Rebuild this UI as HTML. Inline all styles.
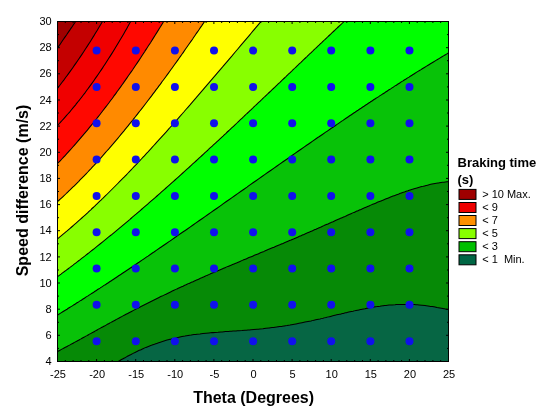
<!DOCTYPE html>
<html><head><meta charset="utf-8"><title>Braking time contour</title>
<style>html,body{margin:0;padding:0;background:#fff}svg{display:block}text{font-family:"Liberation Sans",sans-serif;fill:#000}</style></head><body>
<svg width="550" height="415" viewBox="0 0 550 415">
<rect width="550" height="415" fill="#fff"/>
<defs><clipPath id="c"><rect x="57.5" y="21.5" width="391.0" height="340.0"/></clipPath></defs>
<g clip-path="url(#c)">
<rect x="57.5" y="21.5" width="391.0" height="340.0" fill="#A00000"/>
<path d="M450.5,363.5 L55.5,363.5 L55.5,52.0 L54.8,52.0 C55.3,51.3 56.8,49.1 57.8,47.6 C58.8,46.1 59.8,44.7 60.8,43.2 C61.8,41.8 62.8,40.3 63.8,38.8 C64.8,37.4 65.8,35.9 66.8,34.5 C67.8,33.0 68.8,31.5 69.8,30.1 C70.8,28.6 71.8,27.2 72.8,25.7 C73.8,24.2 74.8,22.8 75.8,21.3 C76.8,19.8 78.3,17.7 78.8,16.9 L78.8,19.5 L450.5,19.5 Z" fill="#C40000" stroke="#000" stroke-width="1.05"/>
<path d="M450.5,363.5 L55.5,363.5 L55.5,91.7 L54.8,91.7 C55.3,91.1 56.8,89.2 57.8,87.9 C58.8,86.6 59.8,85.3 60.8,84.0 C61.8,82.7 62.8,81.4 63.8,80.1 C64.8,78.7 65.8,77.4 66.8,76.0 C67.8,74.7 68.8,73.3 69.8,71.9 C70.8,70.5 71.8,69.1 72.8,67.7 C73.8,66.3 74.8,64.9 75.8,63.4 C76.8,62.0 77.8,60.5 78.8,59.0 C79.8,57.6 80.8,56.1 81.8,54.6 C82.8,53.1 83.8,51.6 84.8,50.0 C85.8,48.5 86.8,46.9 87.8,45.4 C88.8,43.8 89.8,42.2 90.8,40.7 C91.8,39.1 92.8,37.5 93.8,35.9 C94.8,34.2 95.8,32.6 96.8,31.0 C97.8,29.3 98.8,27.7 99.8,26.0 C100.8,24.3 101.8,22.6 102.8,20.9 C103.8,19.2 105.3,16.6 105.8,15.8 L105.8,19.5 L450.5,19.5 Z" fill="#F00000" stroke="#000" stroke-width="1.05"/>
<path d="M450.5,363.5 L55.5,363.5 L55.5,128.2 L54.8,128.2 C55.3,127.7 56.8,126.1 57.8,125.1 C58.8,124.0 59.8,123.0 60.8,121.9 C61.8,120.8 62.8,119.7 63.8,118.6 C64.8,117.5 65.8,116.4 66.8,115.2 C67.8,114.1 68.8,112.9 69.8,111.8 C70.8,110.6 71.8,109.4 72.8,108.2 C73.8,107.0 74.8,105.8 75.8,104.6 C76.8,103.3 77.8,102.1 78.8,100.8 C79.8,99.6 80.8,98.3 81.8,97.0 C82.8,95.7 83.8,94.4 84.8,93.1 C85.8,91.7 86.8,90.4 87.8,89.0 C88.8,87.7 89.8,86.3 90.8,84.9 C91.8,83.5 92.8,82.1 93.8,80.7 C94.8,79.3 95.8,77.9 96.8,76.4 C97.8,75.0 98.8,73.5 99.8,72.0 C100.8,70.6 101.8,69.1 102.8,67.6 C103.8,66.1 104.8,64.5 105.8,63.0 C106.8,61.5 107.8,59.9 108.8,58.3 C109.8,56.8 110.8,55.2 111.8,53.6 C112.8,52.0 113.8,50.4 114.8,48.7 C115.8,47.1 116.8,45.5 117.8,43.8 C118.8,42.1 119.8,40.5 120.8,38.8 C121.8,37.1 122.8,35.4 123.8,33.7 C124.8,31.9 125.8,30.2 126.8,28.4 C127.8,26.7 128.8,24.9 129.8,23.1 C130.8,21.3 132.3,18.6 132.8,17.7 L132.8,19.5 L450.5,19.5 Z" fill="#FF0800" stroke="#000" stroke-width="1.05"/>
<path d="M450.5,363.5 L55.5,363.5 L55.5,166.3 L54.8,166.3 C55.3,165.8 56.8,164.3 57.8,163.2 C58.8,162.2 59.8,161.1 60.8,160.1 C61.8,159.0 62.8,158.0 63.8,156.9 C64.8,155.8 65.8,154.8 66.8,153.7 C67.8,152.6 68.8,151.5 69.8,150.4 C70.8,149.3 71.8,148.2 72.8,147.0 C73.8,145.9 74.8,144.8 75.8,143.7 C76.8,142.5 77.8,141.4 78.8,140.2 C79.8,139.1 80.8,137.9 81.8,136.7 C82.8,135.6 83.8,134.4 84.8,133.2 C85.8,132.0 86.8,130.8 87.8,129.6 C88.8,128.4 89.8,127.2 90.8,125.9 C91.8,124.7 92.8,123.5 93.8,122.2 C94.8,121.0 95.8,119.7 96.8,118.5 C97.8,117.2 98.8,116.0 99.8,114.7 C100.8,113.4 101.8,112.1 102.8,110.8 C103.8,109.5 104.8,108.2 105.8,106.9 C106.8,105.6 107.8,104.3 108.8,103.0 C109.8,101.6 110.8,100.3 111.8,99.0 C112.8,97.6 113.8,96.3 114.8,94.9 C115.8,93.5 116.8,92.2 117.8,90.8 C118.8,89.4 119.8,88.0 120.8,86.6 C121.8,85.2 122.8,83.8 123.8,82.4 C124.8,81.0 125.8,79.6 126.8,78.1 C127.8,76.7 128.8,75.3 129.8,73.8 C130.8,72.4 131.8,70.9 132.8,69.5 C133.8,68.0 134.8,66.5 135.8,65.0 C136.8,63.6 137.8,62.1 138.8,60.6 C139.8,59.1 140.8,57.6 141.8,56.0 C142.8,54.5 143.8,53.0 144.8,51.5 C145.8,49.9 146.8,48.4 147.8,46.8 C148.8,45.3 149.8,43.7 150.8,42.2 C151.8,40.6 152.8,39.0 153.8,37.4 C154.8,35.8 155.8,34.2 156.8,32.6 C157.8,31.0 158.8,29.4 159.8,27.8 C160.8,26.2 161.8,24.6 162.8,22.9 C163.8,21.3 165.3,18.8 165.8,18.0 L165.8,19.5 L450.5,19.5 Z" fill="#FF8A00" stroke="#000" stroke-width="1.05"/>
<path d="M450.5,363.5 L55.5,363.5 L55.5,204.0 L54.8,204.0 C55.3,203.6 56.8,202.3 57.8,201.4 C58.8,200.5 59.8,199.5 60.8,198.6 C61.8,197.7 62.8,196.8 63.8,195.8 C64.8,194.9 65.8,194.0 66.8,193.0 C67.8,192.1 68.8,191.1 69.8,190.2 C70.8,189.2 71.8,188.2 72.8,187.2 C73.8,186.3 74.8,185.3 75.8,184.3 C76.8,183.3 77.8,182.3 78.8,181.3 C79.8,180.2 80.8,179.2 81.8,178.2 C82.8,177.2 83.8,176.1 84.8,175.1 C85.8,174.1 86.8,173.0 87.8,172.0 C88.8,170.9 89.8,169.8 90.8,168.8 C91.8,167.7 92.8,166.6 93.8,165.6 C94.8,164.5 95.8,163.4 96.8,162.3 C97.8,161.2 98.8,160.1 99.8,159.0 C100.8,157.9 101.8,156.7 102.8,155.6 C103.8,154.5 104.8,153.4 105.8,152.2 C106.8,151.1 107.8,149.9 108.8,148.8 C109.8,147.6 110.8,146.5 111.8,145.3 C112.8,144.2 113.8,143.0 114.8,141.8 C115.8,140.6 116.8,139.5 117.8,138.3 C118.8,137.1 119.8,135.9 120.8,134.7 C121.8,133.5 122.8,132.3 123.8,131.1 C124.8,129.8 125.8,128.6 126.8,127.4 C127.8,126.2 128.8,124.9 129.8,123.7 C130.8,122.5 131.8,121.2 132.8,120.0 C133.8,118.7 134.8,117.5 135.8,116.2 C136.8,114.9 137.8,113.7 138.8,112.4 C139.8,111.1 140.8,109.9 141.8,108.6 C142.8,107.3 143.8,106.0 144.8,104.7 C145.8,103.4 146.8,102.1 147.8,100.8 C148.8,99.5 149.8,98.2 150.8,96.9 C151.8,95.6 152.8,94.2 153.8,92.9 C154.8,91.6 155.8,90.2 156.8,88.9 C157.8,87.6 158.8,86.2 159.8,84.9 C160.8,83.5 161.8,82.2 162.8,80.8 C163.8,79.5 164.8,78.1 165.8,76.7 C166.8,75.4 167.8,74.0 168.8,72.6 C169.8,71.2 170.8,69.9 171.8,68.5 C172.8,67.1 173.8,65.7 174.8,64.3 C175.8,62.9 176.8,61.5 177.8,60.1 C178.8,58.7 179.8,57.3 180.8,55.9 C181.8,54.5 182.8,53.0 183.8,51.6 C184.8,50.2 185.8,48.8 186.8,47.3 C187.8,45.9 188.8,44.5 189.8,43.0 C190.8,41.6 191.8,40.1 192.8,38.7 C193.8,37.2 194.8,35.8 195.8,34.3 C196.8,32.9 197.8,31.4 198.8,30.0 C199.8,28.5 200.8,27.0 201.8,25.6 C202.8,24.1 203.8,22.6 204.8,21.1 C205.8,19.7 207.3,17.4 207.8,16.7 L207.8,19.5 L450.5,19.5 Z" fill="#FFFF00" stroke="#000" stroke-width="1.05"/>
<path d="M450.5,363.5 L55.5,363.5 L55.5,241.1 L54.8,241.1 C55.3,240.7 56.8,239.5 57.8,238.7 C58.8,237.9 59.8,237.0 60.8,236.2 C61.8,235.4 62.8,234.5 63.8,233.7 C64.8,232.9 65.8,232.0 66.8,231.2 C67.8,230.3 68.8,229.5 69.8,228.6 C70.8,227.8 71.8,226.9 72.8,226.0 C73.8,225.1 74.8,224.3 75.8,223.4 C76.8,222.5 77.8,221.6 78.8,220.7 C79.8,219.8 80.8,218.9 81.8,218.0 C82.8,217.1 83.8,216.2 84.8,215.3 C85.8,214.4 86.8,213.5 87.8,212.6 C88.8,211.6 89.8,210.7 90.8,209.8 C91.8,208.8 92.8,207.9 93.8,207.0 C94.8,206.0 95.8,205.1 96.8,204.1 C97.8,203.2 98.8,202.2 99.8,201.2 C100.8,200.3 101.8,199.3 102.8,198.4 C103.8,197.4 104.8,196.4 105.8,195.4 C106.8,194.5 107.8,193.5 108.8,192.5 C109.8,191.5 110.8,190.5 111.8,189.5 C112.8,188.5 113.8,187.5 114.8,186.5 C115.8,185.5 116.8,184.5 117.8,183.5 C118.8,182.5 119.8,181.5 120.8,180.4 C121.8,179.4 122.8,178.4 123.8,177.4 C124.8,176.4 125.8,175.3 126.8,174.3 C127.8,173.3 128.8,172.2 129.8,171.2 C130.8,170.1 131.8,169.1 132.8,168.0 C133.8,167.0 134.8,165.9 135.8,164.9 C136.8,163.8 137.8,162.8 138.8,161.7 C139.8,160.6 140.8,159.6 141.8,158.5 C142.8,157.4 143.8,156.4 144.8,155.3 C145.8,154.2 146.8,153.1 147.8,152.1 C148.8,151.0 149.8,149.9 150.8,148.8 C151.8,147.7 152.8,146.6 153.8,145.5 C154.8,144.4 155.8,143.3 156.8,142.2 C157.8,141.1 158.8,140.0 159.8,138.9 C160.8,137.8 161.8,136.7 162.8,135.6 C163.8,134.5 164.8,133.4 165.8,132.3 C166.8,131.2 167.8,130.1 168.8,128.9 C169.8,127.8 170.8,126.7 171.8,125.6 C172.8,124.4 173.8,123.3 174.8,122.2 C175.8,121.1 176.8,119.9 177.8,118.8 C178.8,117.7 179.8,116.5 180.8,115.4 C181.8,114.2 182.8,113.1 183.8,112.0 C184.8,110.8 185.8,109.7 186.8,108.5 C187.8,107.4 188.8,106.2 189.8,105.1 C190.8,103.9 191.8,102.8 192.8,101.6 C193.8,100.5 194.8,99.3 195.8,98.2 C196.8,97.0 197.8,95.9 198.8,94.7 C199.8,93.6 200.8,92.4 201.8,91.2 C202.8,90.1 203.8,88.9 204.8,87.7 C205.8,86.6 206.8,85.4 207.8,84.2 C208.8,83.1 209.8,81.9 210.8,80.7 C211.8,79.6 212.8,78.4 213.8,77.2 C214.8,76.1 215.8,74.9 216.8,73.7 C217.8,72.5 218.8,71.4 219.8,70.2 C220.8,69.0 221.8,67.8 222.8,66.7 C223.8,65.5 224.8,64.3 225.8,63.1 C226.8,62.0 227.8,60.8 228.8,59.6 C229.8,58.4 230.8,57.2 231.8,56.1 C232.8,54.9 233.8,53.7 234.8,52.5 C235.8,51.3 236.8,50.2 237.8,49.0 C238.8,47.8 239.8,46.6 240.8,45.4 C241.8,44.2 242.8,43.1 243.8,41.9 C244.8,40.7 245.8,39.5 246.8,38.3 C247.8,37.2 248.8,36.0 249.8,34.8 C250.8,33.6 251.8,32.4 252.8,31.2 C253.8,30.1 254.8,28.9 255.8,27.7 C256.8,26.5 257.8,25.3 258.8,24.1 C259.8,23.0 260.8,21.8 261.8,20.6 C262.8,19.4 264.3,17.7 264.8,17.1 L264.8,19.5 L450.5,19.5 Z" fill="#88FF00" stroke="#000" stroke-width="1.05"/>
<path d="M450.5,363.5 L55.5,363.5 L55.5,278.4 L55.0,278.4 C55.5,278.1 57.0,277.0 58.0,276.3 C59.0,275.5 60.0,274.8 61.0,274.1 C62.0,273.3 63.0,272.6 64.0,271.8 C65.0,271.1 66.0,270.4 67.0,269.6 C68.0,268.9 69.0,268.1 70.0,267.4 C71.0,266.6 72.0,265.8 73.0,265.1 C74.0,264.3 75.0,263.6 76.0,262.8 C77.0,262.0 78.0,261.3 79.0,260.5 C80.0,259.7 81.0,259.0 82.0,258.2 C83.0,257.4 84.0,256.6 85.0,255.9 C86.0,255.1 87.0,254.3 88.0,253.5 C89.0,252.7 90.0,252.0 91.0,251.2 C92.0,250.4 93.0,249.6 94.0,248.8 C95.0,248.0 96.0,247.2 97.0,246.4 C98.0,245.6 99.0,244.8 100.0,244.0 C101.0,243.2 102.0,242.4 103.0,241.6 C104.0,240.8 105.0,240.0 106.0,239.2 C107.0,238.4 108.0,237.5 109.0,236.7 C110.0,235.9 111.0,235.1 112.0,234.3 C113.0,233.4 114.0,232.6 115.0,231.8 C116.0,231.0 117.0,230.1 118.0,229.3 C119.0,228.5 120.0,227.7 121.0,226.8 C122.0,226.0 123.0,225.2 124.0,224.3 C125.0,223.5 126.0,222.6 127.0,221.8 C128.0,221.0 129.0,220.1 130.0,219.3 C131.0,218.4 132.0,217.6 133.0,216.7 C134.0,215.9 135.0,215.0 136.0,214.2 C137.0,213.3 138.0,212.5 139.0,211.6 C140.0,210.7 141.0,209.9 142.0,209.0 C143.0,208.2 144.0,207.3 145.0,206.4 C146.0,205.6 147.0,204.7 148.0,203.8 C149.0,203.0 150.0,202.1 151.0,201.2 C152.0,200.4 153.0,199.5 154.0,198.6 C155.0,197.7 156.0,196.9 157.0,196.0 C158.0,195.1 159.0,194.2 160.0,193.3 C161.0,192.5 162.0,191.6 163.0,190.7 C164.0,189.8 165.0,188.9 166.0,188.0 C167.0,187.2 168.0,186.3 169.0,185.4 C170.0,184.5 171.0,183.6 172.0,182.7 C173.0,181.8 174.0,180.9 175.0,180.0 C176.0,179.1 177.0,178.2 178.0,177.3 C179.0,176.4 180.0,175.5 181.0,174.6 C182.0,173.7 183.0,172.8 184.0,171.9 C185.0,171.0 186.0,170.1 187.0,169.2 C188.0,168.3 189.0,167.4 190.0,166.5 C191.0,165.6 192.0,164.6 193.0,163.7 C194.0,162.8 195.0,161.9 196.0,161.0 C197.0,160.1 198.0,159.2 199.0,158.2 C200.0,157.3 201.0,156.4 202.0,155.5 C203.0,154.6 204.0,153.7 205.0,152.7 C206.0,151.8 207.0,150.9 208.0,150.0 C209.0,149.0 210.0,148.1 211.0,147.2 C212.0,146.3 213.0,145.3 214.0,144.4 C215.0,143.5 216.0,142.6 217.0,141.6 C218.0,140.7 219.0,139.8 220.0,138.8 C221.0,137.9 222.0,137.0 223.0,136.1 C224.0,135.1 225.0,134.2 226.0,133.3 C227.0,132.3 228.0,131.4 229.0,130.5 C230.0,129.5 231.0,128.6 232.0,127.6 C233.0,126.7 234.0,125.8 235.0,124.8 C236.0,123.9 237.0,123.0 238.0,122.0 C239.0,121.1 240.0,120.1 241.0,119.2 C242.0,118.3 243.0,117.3 244.0,116.4 C245.0,115.4 246.0,114.5 247.0,113.5 C248.0,112.6 249.0,111.7 250.0,110.7 C251.0,109.8 252.0,108.8 253.0,107.9 C254.0,106.9 255.0,106.0 256.0,105.0 C257.0,104.1 258.0,103.1 259.0,102.2 C260.0,101.3 261.0,100.3 262.0,99.4 C263.0,98.4 264.0,97.5 265.0,96.5 C266.0,95.6 267.0,94.6 268.0,93.7 C269.0,92.7 270.0,91.8 271.0,90.8 C272.0,89.9 273.0,88.9 274.0,88.0 C275.0,87.0 276.0,86.1 277.0,85.1 C278.0,84.2 279.0,83.2 280.0,82.3 C281.0,81.3 282.0,80.4 283.0,79.4 C284.0,78.5 285.0,77.5 286.0,76.6 C287.0,75.6 288.0,74.7 289.0,73.7 C290.0,72.8 291.0,71.8 292.0,70.9 C293.0,69.9 294.0,69.0 295.0,68.0 C296.0,67.0 297.0,66.1 298.0,65.1 C299.0,64.2 300.0,63.2 301.0,62.3 C302.0,61.3 303.0,60.4 304.0,59.4 C305.0,58.5 306.0,57.5 307.0,56.6 C308.0,55.6 309.0,54.7 310.0,53.7 C311.0,52.8 312.0,51.8 313.0,50.9 C314.0,49.9 315.0,49.0 316.0,48.0 C317.0,47.1 318.0,46.1 319.0,45.2 C320.0,44.2 321.0,43.3 322.0,42.4 C323.0,41.4 324.0,40.5 325.0,39.5 C326.0,38.6 327.0,37.6 328.0,36.7 C329.0,35.7 330.0,34.8 331.0,33.8 C332.0,32.9 333.0,31.9 334.0,31.0 C335.0,30.1 336.0,29.1 337.0,28.2 C338.0,27.2 339.0,26.3 340.0,25.3 C341.0,24.4 342.0,23.5 343.0,22.5 C344.0,21.6 345.0,20.6 346.0,19.7 C347.0,18.8 348.5,17.4 349.0,16.9 L349.0,19.5 L450.5,19.5 Z" fill="#00FF00" stroke="#000" stroke-width="1.05"/>
<path d="M450.5,363.5 L55.5,363.5 L55.5,316.6 L55.0,316.6 C55.5,316.3 57.0,315.4 58.0,314.7 C59.0,314.1 60.0,313.5 61.0,312.9 C62.0,312.3 63.0,311.7 64.0,311.0 C65.0,310.4 66.0,309.8 67.0,309.2 C68.0,308.5 69.0,307.9 70.0,307.3 C71.0,306.7 72.0,306.0 73.0,305.4 C74.0,304.8 75.0,304.1 76.0,303.5 C77.0,302.9 78.0,302.2 79.0,301.6 C80.0,301.0 81.0,300.3 82.0,299.7 C83.0,299.1 84.0,298.4 85.0,297.8 C86.0,297.1 87.0,296.5 88.0,295.9 C89.0,295.2 90.0,294.6 91.0,293.9 C92.0,293.3 93.0,292.6 94.0,292.0 C95.0,291.3 96.0,290.7 97.0,290.0 C98.0,289.4 99.0,288.7 100.0,288.1 C101.0,287.4 102.0,286.8 103.0,286.1 C104.0,285.5 105.0,284.8 106.0,284.2 C107.0,283.5 108.0,282.9 109.0,282.2 C110.0,281.5 111.0,280.9 112.0,280.2 C113.0,279.6 114.0,278.9 115.0,278.2 C116.0,277.6 117.0,276.9 118.0,276.2 C119.0,275.6 120.0,274.9 121.0,274.3 C122.0,273.6 123.0,272.9 124.0,272.2 C125.0,271.6 126.0,270.9 127.0,270.2 C128.0,269.6 129.0,268.9 130.0,268.2 C131.0,267.6 132.0,266.9 133.0,266.2 C134.0,265.5 135.0,264.9 136.0,264.2 C137.0,263.5 138.0,262.8 139.0,262.2 C140.0,261.5 141.0,260.8 142.0,260.1 C143.0,259.5 144.0,258.8 145.0,258.1 C146.0,257.4 147.0,256.7 148.0,256.1 C149.0,255.4 150.0,254.7 151.0,254.0 C152.0,253.3 153.0,252.6 154.0,252.0 C155.0,251.3 156.0,250.6 157.0,249.9 C158.0,249.2 159.0,248.5 160.0,247.8 C161.0,247.2 162.0,246.5 163.0,245.8 C164.0,245.1 165.0,244.4 166.0,243.7 C167.0,243.0 168.0,242.3 169.0,241.6 C170.0,241.0 171.0,240.3 172.0,239.6 C173.0,238.9 174.0,238.2 175.0,237.5 C176.0,236.8 177.0,236.1 178.0,235.4 C179.0,234.7 180.0,234.0 181.0,233.3 C182.0,232.6 183.0,231.9 184.0,231.2 C185.0,230.6 186.0,229.9 187.0,229.2 C188.0,228.5 189.0,227.8 190.0,227.1 C191.0,226.4 192.0,225.7 193.0,225.0 C194.0,224.3 195.0,223.6 196.0,222.9 C197.0,222.2 198.0,221.5 199.0,220.8 C200.0,220.1 201.0,219.4 202.0,218.7 C203.0,218.0 204.0,217.3 205.0,216.6 C206.0,215.9 207.0,215.2 208.0,214.5 C209.0,213.8 210.0,213.1 211.0,212.4 C212.0,211.7 213.0,211.0 214.0,210.3 C215.0,209.6 216.0,208.9 217.0,208.2 C218.0,207.5 219.0,206.8 220.0,206.1 C221.0,205.4 222.0,204.7 223.0,203.9 C224.0,203.2 225.0,202.5 226.0,201.8 C227.0,201.1 228.0,200.4 229.0,199.7 C230.0,199.0 231.0,198.3 232.0,197.6 C233.0,196.9 234.0,196.2 235.0,195.5 C236.0,194.8 237.0,194.1 238.0,193.4 C239.0,192.7 240.0,192.0 241.0,191.3 C242.0,190.6 243.0,189.9 244.0,189.2 C245.0,188.5 246.0,187.8 247.0,187.1 C248.0,186.3 249.0,185.6 250.0,184.9 C251.0,184.2 252.0,183.5 253.0,182.8 C254.0,182.1 255.0,181.4 256.0,180.7 C257.0,180.0 258.0,179.3 259.0,178.6 C260.0,177.9 261.0,177.2 262.0,176.5 C263.0,175.8 264.0,175.1 265.0,174.4 C266.0,173.7 267.0,173.0 268.0,172.3 C269.0,171.6 270.0,170.9 271.0,170.2 C272.0,169.5 273.0,168.8 274.0,168.1 C275.0,167.4 276.0,166.7 277.0,166.0 C278.0,165.3 279.0,164.6 280.0,163.9 C281.0,163.2 282.0,162.5 283.0,161.8 C284.0,161.1 285.0,160.4 286.0,159.7 C287.0,159.0 288.0,158.3 289.0,157.6 C290.0,156.9 291.0,156.2 292.0,155.5 C293.0,154.8 294.0,154.1 295.0,153.4 C296.0,152.7 297.0,152.0 298.0,151.3 C299.0,150.6 300.0,149.9 301.0,149.2 C302.0,148.5 303.0,147.8 304.0,147.1 C305.0,146.4 306.0,145.7 307.0,145.0 C308.0,144.4 309.0,143.7 310.0,143.0 C311.0,142.3 312.0,141.6 313.0,140.9 C314.0,140.2 315.0,139.5 316.0,138.8 C317.0,138.1 318.0,137.4 319.0,136.8 C320.0,136.1 321.0,135.4 322.0,134.7 C323.0,134.0 324.0,133.3 325.0,132.6 C326.0,131.9 327.0,131.3 328.0,130.6 C329.0,129.9 330.0,129.2 331.0,128.5 C332.0,127.8 333.0,127.2 334.0,126.5 C335.0,125.8 336.0,125.1 337.0,124.4 C338.0,123.8 339.0,123.1 340.0,122.4 C341.0,121.7 342.0,121.0 343.0,120.4 C344.0,119.7 345.0,119.0 346.0,118.3 C347.0,117.7 348.0,117.0 349.0,116.3 C350.0,115.6 351.0,115.0 352.0,114.3 C353.0,113.6 354.0,112.9 355.0,112.3 C356.0,111.6 357.0,110.9 358.0,110.3 C359.0,109.6 360.0,108.9 361.0,108.3 C362.0,107.6 363.0,106.9 364.0,106.3 C365.0,105.6 366.0,104.9 367.0,104.3 C368.0,103.6 369.0,102.9 370.0,102.3 C371.0,101.6 372.0,101.0 373.0,100.3 C374.0,99.6 375.0,99.0 376.0,98.3 C377.0,97.7 378.0,97.0 379.0,96.4 C380.0,95.7 381.0,95.1 382.0,94.4 C383.0,93.8 384.0,93.1 385.0,92.5 C386.0,91.8 387.0,91.2 388.0,90.5 C389.0,89.9 390.0,89.2 391.0,88.6 C392.0,87.9 393.0,87.3 394.0,86.6 C395.0,86.0 396.0,85.3 397.0,84.7 C398.0,84.1 399.0,83.4 400.0,82.8 C401.0,82.1 402.0,81.5 403.0,80.9 C404.0,80.2 405.0,79.6 406.0,79.0 C407.0,78.3 408.0,77.7 409.0,77.1 C410.0,76.4 411.0,75.8 412.0,75.2 C413.0,74.6 414.0,73.9 415.0,73.3 C416.0,72.7 417.0,72.1 418.0,71.4 C419.0,70.8 420.0,70.2 421.0,69.6 C422.0,68.9 423.0,68.3 424.0,67.7 C425.0,67.1 426.0,66.5 427.0,65.9 C428.0,65.3 429.0,64.6 430.0,64.0 C431.0,63.4 432.0,62.8 433.0,62.2 C434.0,61.6 435.0,61.0 436.0,60.4 C437.0,59.8 438.0,59.2 439.0,58.6 C440.0,58.0 441.0,57.4 442.0,56.8 C443.0,56.2 444.0,55.6 445.0,55.0 C446.0,54.4 447.0,53.8 448.0,53.2 C449.0,52.6 450.5,51.7 451.0,51.4 L450.5,51.4 Z" fill="#08C208" stroke="#000" stroke-width="1.05"/>
<path d="M450.5,363.5 L55.5,363.5 L55.5,351.8 L57.0,351.8 C57.5,351.5 59.0,350.7 60.0,350.2 C61.0,349.7 62.0,349.1 63.0,348.6 C64.0,348.1 65.0,347.5 66.0,347.0 C67.0,346.5 68.0,345.9 69.0,345.4 C70.0,344.9 71.0,344.3 72.0,343.8 C73.0,343.2 74.0,342.7 75.0,342.1 C76.0,341.6 77.0,341.1 78.0,340.5 C79.0,340.0 80.0,339.4 81.0,338.9 C82.0,338.3 83.0,337.8 84.0,337.2 C85.0,336.7 86.0,336.1 87.0,335.6 C88.0,335.0 89.0,334.5 90.0,333.9 C91.0,333.4 92.0,332.8 93.0,332.3 C94.0,331.7 95.0,331.2 96.0,330.6 C97.0,330.0 98.0,329.5 99.0,328.9 C100.0,328.4 101.0,327.8 102.0,327.3 C103.0,326.8 104.0,326.2 105.0,325.7 C106.0,325.1 107.0,324.6 108.0,324.0 C109.0,323.5 110.0,322.9 111.0,322.4 C112.0,321.8 113.0,321.3 114.0,320.8 C115.0,320.2 116.0,319.7 117.0,319.1 C118.0,318.6 119.0,318.1 120.0,317.5 C121.0,317.0 122.0,316.5 123.0,315.9 C124.0,315.4 125.0,314.9 126.0,314.3 C127.0,313.8 128.0,313.3 129.0,312.7 C130.0,312.2 131.0,311.7 132.0,311.2 C133.0,310.7 134.0,310.1 135.0,309.6 C136.0,309.1 137.0,308.6 138.0,308.1 C139.0,307.5 140.0,307.0 141.0,306.5 C142.0,306.0 143.0,305.5 144.0,305.0 C145.0,304.5 146.0,304.0 147.0,303.5 C148.0,303.0 149.0,302.5 150.0,302.0 C151.0,301.5 152.0,301.0 153.0,300.5 C154.0,300.0 155.0,299.5 156.0,299.0 C157.0,298.5 158.0,298.0 159.0,297.5 C160.0,297.0 161.0,296.5 162.0,296.1 C163.0,295.6 164.0,295.1 165.0,294.6 C166.0,294.1 167.0,293.7 168.0,293.2 C169.0,292.7 170.0,292.2 171.0,291.7 C172.0,291.3 173.0,290.8 174.0,290.3 C175.0,289.9 176.0,289.4 177.0,288.9 C178.0,288.5 179.0,288.0 180.0,287.5 C181.0,287.1 182.0,286.6 183.0,286.2 C184.0,285.7 185.0,285.2 186.0,284.8 C187.0,284.3 188.0,283.9 189.0,283.4 C190.0,283.0 191.0,282.5 192.0,282.1 C193.0,281.6 194.0,281.2 195.0,280.7 C196.0,280.3 197.0,279.8 198.0,279.4 C199.0,279.0 200.0,278.5 201.0,278.1 C202.0,277.6 203.0,277.2 204.0,276.8 C205.0,276.3 206.0,275.9 207.0,275.4 C208.0,275.0 209.0,274.6 210.0,274.1 C211.0,273.7 212.0,273.3 213.0,272.8 C214.0,272.4 215.0,272.0 216.0,271.6 C217.0,271.1 218.0,270.7 219.0,270.3 C220.0,269.8 221.0,269.4 222.0,269.0 C223.0,268.6 224.0,268.1 225.0,267.7 C226.0,267.3 227.0,266.9 228.0,266.4 C229.0,266.0 230.0,265.6 231.0,265.2 C232.0,264.8 233.0,264.3 234.0,263.9 C235.0,263.5 236.0,263.1 237.0,262.7 C238.0,262.2 239.0,261.8 240.0,261.4 C241.0,261.0 242.0,260.6 243.0,260.1 C244.0,259.7 245.0,259.3 246.0,258.9 C247.0,258.5 248.0,258.0 249.0,257.6 C250.0,257.2 251.0,256.8 252.0,256.4 C253.0,256.0 254.0,255.5 255.0,255.1 C256.0,254.7 257.0,254.3 258.0,253.9 C259.0,253.5 260.0,253.0 261.0,252.6 C262.0,252.2 263.0,251.8 264.0,251.4 C265.0,250.9 266.0,250.5 267.0,250.1 C268.0,249.7 269.0,249.3 270.0,248.8 C271.0,248.4 272.0,248.0 273.0,247.6 C274.0,247.2 275.0,246.7 276.0,246.3 C277.0,245.9 278.0,245.5 279.0,245.1 C280.0,244.6 281.0,244.2 282.0,243.8 C283.0,243.4 284.0,242.9 285.0,242.5 C286.0,242.1 287.0,241.7 288.0,241.2 C289.0,240.8 290.0,240.4 291.0,240.0 C292.0,239.5 293.0,239.1 294.0,238.7 C295.0,238.2 296.0,237.8 297.0,237.4 C298.0,237.0 299.0,236.5 300.0,236.1 C301.0,235.7 302.0,235.2 303.0,234.8 C304.0,234.4 305.0,233.9 306.0,233.5 C307.0,233.1 308.0,232.6 309.0,232.2 C310.0,231.8 311.0,231.3 312.0,230.9 C313.0,230.5 314.0,230.0 315.0,229.6 C316.0,229.2 317.0,228.7 318.0,228.3 C319.0,227.8 320.0,227.4 321.0,227.0 C322.0,226.5 323.0,226.1 324.0,225.6 C325.0,225.2 326.0,224.8 327.0,224.3 C328.0,223.9 329.0,223.4 330.0,223.0 C331.0,222.6 332.0,222.1 333.0,221.7 C334.0,221.2 335.0,220.8 336.0,220.3 C337.0,219.9 338.0,219.5 339.0,219.0 C340.0,218.6 341.0,218.1 342.0,217.7 C343.0,217.3 344.0,216.8 345.0,216.4 C346.0,215.9 347.0,215.5 348.0,215.0 C349.0,214.6 350.0,214.2 351.0,213.7 C352.0,213.3 353.0,212.9 354.0,212.4 C355.0,212.0 356.0,211.5 357.0,211.1 C358.0,210.7 359.0,210.2 360.0,209.8 C361.0,209.4 362.0,208.9 363.0,208.5 C364.0,208.1 365.0,207.6 366.0,207.2 C367.0,206.8 368.0,206.3 369.0,205.9 C370.0,205.5 371.0,205.1 372.0,204.6 C373.0,204.2 374.0,203.8 375.0,203.4 C376.0,203.0 377.0,202.5 378.0,202.1 C379.0,201.7 380.0,201.3 381.0,200.9 C382.0,200.5 383.0,200.1 384.0,199.7 C385.0,199.3 386.0,198.9 387.0,198.5 C388.0,198.1 389.0,197.7 390.0,197.3 C391.0,196.9 392.0,196.5 393.0,196.1 C394.0,195.8 395.0,195.4 396.0,195.0 C397.0,194.6 398.0,194.3 399.0,193.9 C400.0,193.5 401.0,193.2 402.0,192.8 C403.0,192.5 404.0,192.1 405.0,191.8 C406.0,191.4 407.0,191.1 408.0,190.8 C409.0,190.4 410.0,190.1 411.0,189.8 C412.0,189.5 413.0,189.1 414.0,188.8 C415.0,188.5 416.0,188.2 417.0,187.9 C418.0,187.6 419.0,187.4 420.0,187.1 C421.0,186.8 422.0,186.5 423.0,186.3 C424.0,186.0 425.0,185.8 426.0,185.5 C427.0,185.3 428.0,185.0 429.0,184.8 C430.0,184.6 431.0,184.4 432.0,184.1 C433.0,183.9 434.0,183.7 435.0,183.5 C436.0,183.4 437.0,183.2 438.0,183.0 C439.0,182.8 440.0,182.7 441.0,182.5 C442.0,182.4 443.0,182.3 444.0,182.2 C445.0,182.0 446.0,181.9 447.0,181.8 C448.0,181.7 449.5,181.6 450.0,181.6 L450.5,181.6 Z" fill="#068A06" stroke="#000" stroke-width="1.05"/>
<path d="M450.5,363.5 L116.0,363.5 L116.0,362.8 C116.5,362.5 118.0,361.6 119.0,361.0 C120.0,360.5 121.0,359.9 122.0,359.3 C123.0,358.8 124.0,358.2 125.0,357.7 C126.0,357.1 127.0,356.6 128.0,356.0 C129.0,355.5 130.0,355.0 131.0,354.5 C132.0,353.9 133.0,353.4 134.0,352.9 C135.0,352.4 136.0,352.0 137.0,351.5 C138.0,351.0 139.0,350.5 140.0,350.1 C141.0,349.6 142.0,349.2 143.0,348.7 C144.0,348.3 145.0,347.9 146.0,347.4 C147.0,347.0 148.0,346.6 149.0,346.2 C150.0,345.8 151.0,345.4 152.0,345.1 C153.0,344.7 154.0,344.3 155.0,344.0 C156.0,343.6 157.0,343.2 158.0,342.9 C159.0,342.6 160.0,342.2 161.0,341.9 C162.0,341.6 163.0,341.3 164.0,341.0 C165.0,340.7 166.0,340.4 167.0,340.1 C168.0,339.9 169.0,339.6 170.0,339.3 C171.0,339.1 172.0,338.8 173.0,338.6 C174.0,338.3 175.0,338.1 176.0,337.9 C177.0,337.6 178.0,337.4 179.0,337.2 C180.0,337.0 181.0,336.8 182.0,336.6 C183.0,336.4 184.0,336.2 185.0,336.1 C186.0,335.9 187.0,335.7 188.0,335.5 C189.0,335.4 190.0,335.2 191.0,335.1 C192.0,334.9 193.0,334.8 194.0,334.6 C195.0,334.5 196.0,334.4 197.0,334.2 C198.0,334.1 199.0,334.0 200.0,333.9 C201.0,333.7 202.0,333.6 203.0,333.5 C204.0,333.4 205.0,333.3 206.0,333.2 C207.0,333.1 208.0,333.0 209.0,332.9 C210.0,332.8 211.0,332.7 212.0,332.6 C213.0,332.6 214.0,332.5 215.0,332.4 C216.0,332.3 217.0,332.2 218.0,332.2 C219.0,332.1 220.0,332.0 221.0,331.9 C222.0,331.9 223.0,331.8 224.0,331.7 C225.0,331.6 226.0,331.6 227.0,331.5 C228.0,331.4 229.0,331.4 230.0,331.3 C231.0,331.2 232.0,331.2 233.0,331.1 C234.0,331.0 235.0,331.0 236.0,330.9 C237.0,330.8 238.0,330.8 239.0,330.7 C240.0,330.6 241.0,330.5 242.0,330.5 C243.0,330.4 244.0,330.3 245.0,330.2 C246.0,330.2 247.0,330.1 248.0,330.0 C249.0,329.9 250.0,329.9 251.0,329.8 C252.0,329.7 253.0,329.6 254.0,329.5 C255.0,329.4 256.0,329.3 257.0,329.2 C258.0,329.2 259.0,329.1 260.0,329.0 C261.0,328.9 262.0,328.8 263.0,328.7 C264.0,328.5 265.0,328.4 266.0,328.3 C267.0,328.2 268.0,328.1 269.0,328.0 C270.0,327.9 271.0,327.7 272.0,327.6 C273.0,327.5 274.0,327.4 275.0,327.2 C276.0,327.1 277.0,327.0 278.0,326.8 C279.0,326.7 280.0,326.5 281.0,326.4 C282.0,326.2 283.0,326.1 284.0,325.9 C285.0,325.8 286.0,325.6 287.0,325.5 C288.0,325.3 289.0,325.1 290.0,325.0 C291.0,324.8 292.0,324.6 293.0,324.4 C294.0,324.3 295.0,324.1 296.0,323.9 C297.0,323.7 298.0,323.5 299.0,323.3 C300.0,323.1 301.0,322.9 302.0,322.7 C303.0,322.5 304.0,322.3 305.0,322.1 C306.0,321.9 307.0,321.7 308.0,321.5 C309.0,321.3 310.0,321.1 311.0,320.9 C312.0,320.6 313.0,320.4 314.0,320.2 C315.0,320.0 316.0,319.8 317.0,319.5 C318.0,319.3 319.0,319.1 320.0,318.9 C321.0,318.6 322.0,318.4 323.0,318.2 C324.0,317.9 325.0,317.7 326.0,317.5 C327.0,317.2 328.0,317.0 329.0,316.8 C330.0,316.5 331.0,316.3 332.0,316.0 C333.0,315.8 334.0,315.6 335.0,315.3 C336.0,315.1 337.0,314.9 338.0,314.6 C339.0,314.4 340.0,314.1 341.0,313.9 C342.0,313.7 343.0,313.4 344.0,313.2 C345.0,313.0 346.0,312.7 347.0,312.5 C348.0,312.3 349.0,312.1 350.0,311.8 C351.0,311.6 352.0,311.4 353.0,311.2 C354.0,310.9 355.0,310.7 356.0,310.5 C357.0,310.3 358.0,310.1 359.0,309.9 C360.0,309.7 361.0,309.4 362.0,309.2 C363.0,309.0 364.0,308.8 365.0,308.7 C366.0,308.5 367.0,308.3 368.0,308.1 C369.0,307.9 370.0,307.7 371.0,307.6 C372.0,307.4 373.0,307.2 374.0,307.1 C375.0,306.9 376.0,306.7 377.0,306.6 C378.0,306.4 379.0,306.3 380.0,306.2 C381.0,306.0 382.0,305.9 383.0,305.8 C384.0,305.7 385.0,305.5 386.0,305.4 C387.0,305.3 388.0,305.2 389.0,305.1 C390.0,305.0 391.0,305.0 392.0,304.9 C393.0,304.8 394.0,304.7 395.0,304.7 C396.0,304.6 397.0,304.6 398.0,304.5 C399.0,304.5 400.0,304.4 401.0,304.4 C402.0,304.4 403.0,304.4 404.0,304.4 C405.0,304.4 406.0,304.4 407.0,304.4 C408.0,304.4 409.0,304.4 410.0,304.4 C411.0,304.5 412.0,304.5 413.0,304.5 C414.0,304.6 415.0,304.6 416.0,304.7 C417.0,304.8 418.0,304.8 419.0,304.9 C420.0,305.0 421.0,305.1 422.0,305.2 C423.0,305.3 424.0,305.4 425.0,305.5 C426.0,305.7 427.0,305.8 428.0,305.9 C429.0,306.1 430.0,306.2 431.0,306.4 C432.0,306.5 433.0,306.7 434.0,306.8 C435.0,307.0 436.0,307.2 437.0,307.4 C438.0,307.5 439.0,307.7 440.0,307.9 C441.0,308.1 442.0,308.3 443.0,308.5 C444.0,308.7 445.0,309.0 446.0,309.2 C447.0,309.4 448.0,309.6 449.0,309.9 C450.0,310.1 451.5,310.4 452.0,310.5 L450.5,310.5 Z" fill="#066644" stroke="#000" stroke-width="1.05"/>
<circle cx="96.6" cy="341.2" r="4" fill="#1010EC"/>
<circle cx="96.6" cy="304.8" r="4" fill="#1010EC"/>
<circle cx="96.6" cy="268.5" r="4" fill="#1010EC"/>
<circle cx="96.6" cy="232.2" r="4" fill="#1010EC"/>
<circle cx="96.6" cy="195.9" r="4" fill="#1010EC"/>
<circle cx="96.6" cy="159.5" r="4" fill="#1010EC"/>
<circle cx="96.6" cy="123.2" r="4" fill="#1010EC"/>
<circle cx="96.6" cy="86.9" r="4" fill="#1010EC"/>
<circle cx="96.6" cy="50.6" r="4" fill="#1010EC"/>
<circle cx="135.8" cy="341.2" r="4" fill="#1010EC"/>
<circle cx="135.8" cy="304.8" r="4" fill="#1010EC"/>
<circle cx="135.8" cy="268.5" r="4" fill="#1010EC"/>
<circle cx="135.8" cy="232.2" r="4" fill="#1010EC"/>
<circle cx="135.8" cy="195.9" r="4" fill="#1010EC"/>
<circle cx="135.8" cy="159.5" r="4" fill="#1010EC"/>
<circle cx="135.8" cy="123.2" r="4" fill="#1010EC"/>
<circle cx="135.8" cy="86.9" r="4" fill="#1010EC"/>
<circle cx="135.8" cy="50.6" r="4" fill="#1010EC"/>
<circle cx="174.9" cy="341.2" r="4" fill="#1010EC"/>
<circle cx="174.9" cy="304.8" r="4" fill="#1010EC"/>
<circle cx="174.9" cy="268.5" r="4" fill="#1010EC"/>
<circle cx="174.9" cy="232.2" r="4" fill="#1010EC"/>
<circle cx="174.9" cy="195.9" r="4" fill="#1010EC"/>
<circle cx="174.9" cy="159.5" r="4" fill="#1010EC"/>
<circle cx="174.9" cy="123.2" r="4" fill="#1010EC"/>
<circle cx="174.9" cy="86.9" r="4" fill="#1010EC"/>
<circle cx="174.9" cy="50.6" r="4" fill="#1010EC"/>
<circle cx="214.0" cy="341.2" r="4" fill="#1010EC"/>
<circle cx="214.0" cy="304.8" r="4" fill="#1010EC"/>
<circle cx="214.0" cy="268.5" r="4" fill="#1010EC"/>
<circle cx="214.0" cy="232.2" r="4" fill="#1010EC"/>
<circle cx="214.0" cy="195.9" r="4" fill="#1010EC"/>
<circle cx="214.0" cy="159.5" r="4" fill="#1010EC"/>
<circle cx="214.0" cy="123.2" r="4" fill="#1010EC"/>
<circle cx="214.0" cy="86.9" r="4" fill="#1010EC"/>
<circle cx="214.0" cy="50.6" r="4" fill="#1010EC"/>
<circle cx="253.1" cy="341.2" r="4" fill="#1010EC"/>
<circle cx="253.1" cy="304.8" r="4" fill="#1010EC"/>
<circle cx="253.1" cy="268.5" r="4" fill="#1010EC"/>
<circle cx="253.1" cy="232.2" r="4" fill="#1010EC"/>
<circle cx="253.1" cy="195.9" r="4" fill="#1010EC"/>
<circle cx="253.1" cy="159.5" r="4" fill="#1010EC"/>
<circle cx="253.1" cy="123.2" r="4" fill="#1010EC"/>
<circle cx="253.1" cy="86.9" r="4" fill="#1010EC"/>
<circle cx="253.1" cy="50.6" r="4" fill="#1010EC"/>
<circle cx="292.2" cy="341.2" r="4" fill="#1010EC"/>
<circle cx="292.2" cy="304.8" r="4" fill="#1010EC"/>
<circle cx="292.2" cy="268.5" r="4" fill="#1010EC"/>
<circle cx="292.2" cy="232.2" r="4" fill="#1010EC"/>
<circle cx="292.2" cy="195.9" r="4" fill="#1010EC"/>
<circle cx="292.2" cy="159.5" r="4" fill="#1010EC"/>
<circle cx="292.2" cy="123.2" r="4" fill="#1010EC"/>
<circle cx="292.2" cy="86.9" r="4" fill="#1010EC"/>
<circle cx="292.2" cy="50.6" r="4" fill="#1010EC"/>
<circle cx="331.2" cy="341.2" r="4" fill="#1010EC"/>
<circle cx="331.2" cy="304.8" r="4" fill="#1010EC"/>
<circle cx="331.2" cy="268.5" r="4" fill="#1010EC"/>
<circle cx="331.2" cy="232.2" r="4" fill="#1010EC"/>
<circle cx="331.2" cy="195.9" r="4" fill="#1010EC"/>
<circle cx="331.2" cy="159.5" r="4" fill="#1010EC"/>
<circle cx="331.2" cy="123.2" r="4" fill="#1010EC"/>
<circle cx="331.2" cy="86.9" r="4" fill="#1010EC"/>
<circle cx="331.2" cy="50.6" r="4" fill="#1010EC"/>
<circle cx="370.4" cy="341.2" r="4" fill="#1010EC"/>
<circle cx="370.4" cy="304.8" r="4" fill="#1010EC"/>
<circle cx="370.4" cy="268.5" r="4" fill="#1010EC"/>
<circle cx="370.4" cy="232.2" r="4" fill="#1010EC"/>
<circle cx="370.4" cy="195.9" r="4" fill="#1010EC"/>
<circle cx="370.4" cy="159.5" r="4" fill="#1010EC"/>
<circle cx="370.4" cy="123.2" r="4" fill="#1010EC"/>
<circle cx="370.4" cy="86.9" r="4" fill="#1010EC"/>
<circle cx="370.4" cy="50.6" r="4" fill="#1010EC"/>
<circle cx="409.5" cy="341.2" r="4" fill="#1010EC"/>
<circle cx="409.5" cy="304.8" r="4" fill="#1010EC"/>
<circle cx="409.5" cy="268.5" r="4" fill="#1010EC"/>
<circle cx="409.5" cy="232.2" r="4" fill="#1010EC"/>
<circle cx="409.5" cy="195.9" r="4" fill="#1010EC"/>
<circle cx="409.5" cy="159.5" r="4" fill="#1010EC"/>
<circle cx="409.5" cy="123.2" r="4" fill="#1010EC"/>
<circle cx="409.5" cy="86.9" r="4" fill="#1010EC"/>
<circle cx="409.5" cy="50.6" r="4" fill="#1010EC"/>
</g>
<path d="M57.5,361.5 v-2.5 M57.5,21.5 v2.5 M65.3,361.5 v-1.5 M65.3,21.5 v1.5 M73.1,361.5 v-1.5 M73.1,21.5 v1.5 M81.0,361.5 v-1.5 M81.0,21.5 v1.5 M88.8,361.5 v-1.5 M88.8,21.5 v1.5 M96.6,361.5 v-2.5 M96.6,21.5 v2.5 M104.4,361.5 v-1.5 M104.4,21.5 v1.5 M112.2,361.5 v-1.5 M112.2,21.5 v1.5 M120.1,361.5 v-1.5 M120.1,21.5 v1.5 M127.9,361.5 v-1.5 M127.9,21.5 v1.5 M135.7,361.5 v-2.5 M135.7,21.5 v2.5 M143.5,361.5 v-1.5 M143.5,21.5 v1.5 M151.3,361.5 v-1.5 M151.3,21.5 v1.5 M159.2,361.5 v-1.5 M159.2,21.5 v1.5 M167.0,361.5 v-1.5 M167.0,21.5 v1.5 M174.8,361.5 v-2.5 M174.8,21.5 v2.5 M182.6,361.5 v-1.5 M182.6,21.5 v1.5 M190.4,361.5 v-1.5 M190.4,21.5 v1.5 M198.3,361.5 v-1.5 M198.3,21.5 v1.5 M206.1,361.5 v-1.5 M206.1,21.5 v1.5 M213.9,361.5 v-2.5 M213.9,21.5 v2.5 M221.7,361.5 v-1.5 M221.7,21.5 v1.5 M229.5,361.5 v-1.5 M229.5,21.5 v1.5 M237.4,361.5 v-1.5 M237.4,21.5 v1.5 M245.2,361.5 v-1.5 M245.2,21.5 v1.5 M253.0,361.5 v-2.5 M253.0,21.5 v2.5 M260.8,361.5 v-1.5 M260.8,21.5 v1.5 M268.6,361.5 v-1.5 M268.6,21.5 v1.5 M276.5,361.5 v-1.5 M276.5,21.5 v1.5 M284.3,361.5 v-1.5 M284.3,21.5 v1.5 M292.1,361.5 v-2.5 M292.1,21.5 v2.5 M299.9,361.5 v-1.5 M299.9,21.5 v1.5 M307.7,361.5 v-1.5 M307.7,21.5 v1.5 M315.6,361.5 v-1.5 M315.6,21.5 v1.5 M323.4,361.5 v-1.5 M323.4,21.5 v1.5 M331.2,361.5 v-2.5 M331.2,21.5 v2.5 M339.0,361.5 v-1.5 M339.0,21.5 v1.5 M346.8,361.5 v-1.5 M346.8,21.5 v1.5 M354.7,361.5 v-1.5 M354.7,21.5 v1.5 M362.5,361.5 v-1.5 M362.5,21.5 v1.5 M370.3,361.5 v-2.5 M370.3,21.5 v2.5 M378.1,361.5 v-1.5 M378.1,21.5 v1.5 M385.9,361.5 v-1.5 M385.9,21.5 v1.5 M393.8,361.5 v-1.5 M393.8,21.5 v1.5 M401.6,361.5 v-1.5 M401.6,21.5 v1.5 M409.4,361.5 v-2.5 M409.4,21.5 v2.5 M417.2,361.5 v-1.5 M417.2,21.5 v1.5 M425.0,361.5 v-1.5 M425.0,21.5 v1.5 M432.9,361.5 v-1.5 M432.9,21.5 v1.5 M440.7,361.5 v-1.5 M440.7,21.5 v1.5 M448.5,361.5 v-2.5 M448.5,21.5 v2.5 M57.5,361.5 h2.5 M448.5,361.5 h-2.5 M57.5,348.4 h1.5 M448.5,348.4 h-1.5 M57.5,335.3 h2.5 M448.5,335.3 h-2.5 M57.5,322.3 h1.5 M448.5,322.3 h-1.5 M57.5,309.2 h2.5 M448.5,309.2 h-2.5 M57.5,296.1 h1.5 M448.5,296.1 h-1.5 M57.5,283.0 h2.5 M448.5,283.0 h-2.5 M57.5,270.0 h1.5 M448.5,270.0 h-1.5 M57.5,256.9 h2.5 M448.5,256.9 h-2.5 M57.5,243.8 h1.5 M448.5,243.8 h-1.5 M57.5,230.7 h2.5 M448.5,230.7 h-2.5 M57.5,217.7 h1.5 M448.5,217.7 h-1.5 M57.5,204.6 h2.5 M448.5,204.6 h-2.5 M57.5,191.5 h1.5 M448.5,191.5 h-1.5 M57.5,178.4 h2.5 M448.5,178.4 h-2.5 M57.5,165.3 h1.5 M448.5,165.3 h-1.5 M57.5,152.3 h2.5 M448.5,152.3 h-2.5 M57.5,139.2 h1.5 M448.5,139.2 h-1.5 M57.5,126.1 h2.5 M448.5,126.1 h-2.5 M57.5,113.0 h1.5 M448.5,113.0 h-1.5 M57.5,100.0 h2.5 M448.5,100.0 h-2.5 M57.5,86.9 h1.5 M448.5,86.9 h-1.5 M57.5,73.8 h2.5 M448.5,73.8 h-2.5 M57.5,60.7 h1.5 M448.5,60.7 h-1.5 M57.5,47.7 h2.5 M448.5,47.7 h-2.5 M57.5,34.6 h1.5 M448.5,34.6 h-1.5 M57.5,21.5 h2.5 M448.5,21.5 h-2.5" stroke="#000" stroke-width="1" fill="none"/>
<rect x="57.5" y="21.5" width="391.0" height="340.0" fill="none" stroke="#000" stroke-width="1"/>
<g font-size="11">
<text x="58.0" y="377.8" text-anchor="middle">-25</text>
<text x="97.1" y="377.8" text-anchor="middle">-20</text>
<text x="136.2" y="377.8" text-anchor="middle">-15</text>
<text x="175.3" y="377.8" text-anchor="middle">-10</text>
<text x="214.4" y="377.8" text-anchor="middle">-5</text>
<text x="253.5" y="377.8" text-anchor="middle">0</text>
<text x="292.6" y="377.8" text-anchor="middle">5</text>
<text x="331.7" y="377.8" text-anchor="middle">10</text>
<text x="370.8" y="377.8" text-anchor="middle">15</text>
<text x="409.9" y="377.8" text-anchor="middle">20</text>
<text x="449.0" y="377.8" text-anchor="middle">25</text>
<text x="51.7" y="365.1" text-anchor="end">4</text>
<text x="51.7" y="338.9" text-anchor="end">6</text>
<text x="51.7" y="312.8" text-anchor="end">8</text>
<text x="51.7" y="286.6" text-anchor="end">10</text>
<text x="51.7" y="260.5" text-anchor="end">12</text>
<text x="51.7" y="234.3" text-anchor="end">14</text>
<text x="51.7" y="208.2" text-anchor="end">16</text>
<text x="51.7" y="182.0" text-anchor="end">18</text>
<text x="51.7" y="155.9" text-anchor="end">20</text>
<text x="51.7" y="129.7" text-anchor="end">22</text>
<text x="51.7" y="103.6" text-anchor="end">24</text>
<text x="51.7" y="77.4" text-anchor="end">26</text>
<text x="51.7" y="51.3" text-anchor="end">28</text>
<text x="51.7" y="25.1" text-anchor="end">30</text>
</g>
<text x="253.6" y="403" font-size="16" font-weight="bold" text-anchor="middle">Theta (Degrees)</text>
<text transform="translate(28.4,190.5) rotate(-90)" font-size="16" font-weight="bold" text-anchor="middle">Speed difference (m/s)</text>
<text x="457.5" y="167" font-size="13" font-weight="bold">Braking time</text>
<text x="457.5" y="183.6" font-size="13" font-weight="bold">(s)</text>
<rect x="459" y="189.4" width="17" height="10" fill="#9E0000" stroke="#000" stroke-width="1"/>
<text x="482.2" y="197.7" font-size="11" style="white-space:pre">&gt; 10 Max.</text>
<rect x="459" y="202.5" width="17" height="10" fill="#EE0000" stroke="#000" stroke-width="1"/>
<text x="482.2" y="210.8" font-size="11" style="white-space:pre">&lt; 9</text>
<rect x="459" y="215.5" width="17" height="10" fill="#FF9000" stroke="#000" stroke-width="1"/>
<text x="482.2" y="223.8" font-size="11" style="white-space:pre">&lt; 7</text>
<rect x="459" y="228.6" width="17" height="10" fill="#88FF00" stroke="#000" stroke-width="1"/>
<text x="482.2" y="236.9" font-size="11" style="white-space:pre">&lt; 5</text>
<rect x="459" y="241.7" width="17" height="10" fill="#00C000" stroke="#000" stroke-width="1"/>
<text x="482.2" y="250.0" font-size="11" style="white-space:pre">&lt; 3</text>
<rect x="459" y="254.8" width="17" height="10" fill="#006644" stroke="#000" stroke-width="1"/>
<text x="482.2" y="263.1" font-size="11" style="white-space:pre">&lt; 1  Min.</text>
</svg></body></html>
